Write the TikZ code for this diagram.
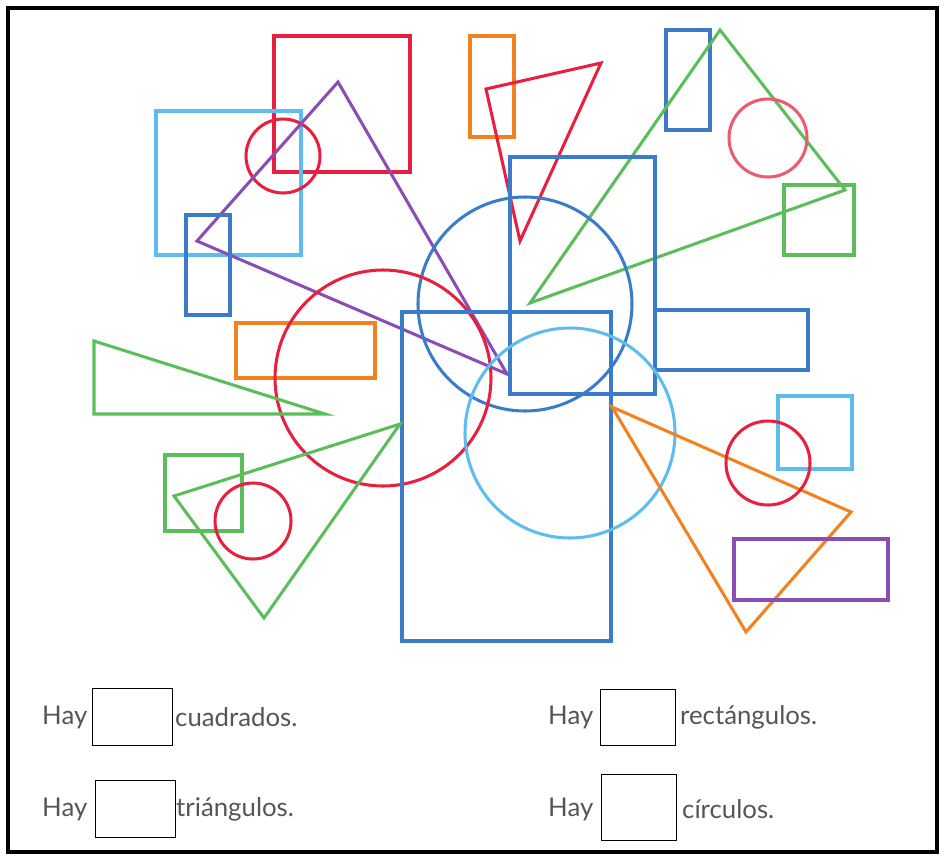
\documentclass[tikz,border=0pt]{standalone}
\usepackage{fontspec}
\setmainfont{Lato}
\definecolor{cred}{HTML}{E8203F}
\definecolor{cblue}{HTML}{3B7CC9}
\definecolor{ccyan}{HTML}{5CBDEE}
\definecolor{cgreen}{HTML}{5CBE5A}
\definecolor{corange}{HTML}{F4811F}
\definecolor{cpurple}{HTML}{8B4DB3}
\definecolor{cpink}{HTML}{EE5A70}
\definecolor{cgray}{HTML}{555555}
\begin{document}
\begin{tikzpicture}[x=0.03cm,y=-0.03cm,
  sh/.style={line width=2.6pt,line join=miter},
  lab/.style={anchor=west,inner sep=0pt,text=cgray,font=\fontsize{22}{26}\selectfont},
  box/.style={draw=black,line width=0.6pt}]
\useasboundingbox (0,0) rectangle (945,857);
\draw[line width=3.5pt] (8,8) rectangle (937,852);
% shapes
\draw[sh,cred] (274,36) rectangle (410,172);
\draw[sh,corange] (470,36) rectangle (514,137);
\draw[sh,cred] (486,89) -- (601,63) -- (520,241) -- cycle;
\draw[sh,cblue] (666,30) rectangle (710,130);
\draw[sh,cgreen] (720,30) -- (845,190) -- (530,303) -- cycle;
\draw[sh,cpink] (768,138) circle (39);
\draw[sh,cgreen] (784,185) rectangle (854,255);
\draw[sh,ccyan] (156,111) rectangle (301,255);
\draw[sh,cred] (283,156) circle (37);
\draw[sh,cpurple] (338,82) -- (197,241) -- (507,374) -- cycle;
\draw[sh,cblue] (186,215) rectangle (230,315);
\draw[sh,cblue] (510,157) rectangle (655,394);
\draw[sh,cblue] (525,304) circle (107);
\draw[sh,cblue] (655,310) rectangle (808,370);
\draw[sh,corange] (236,323) rectangle (375,378);
\draw[sh,cred] (383,378) circle (108);
\draw[sh,cgreen] (94,341) -- (94,414) -- (325,414) -- cycle;
\draw[sh,cblue] (402,312) rectangle (611,641);
\draw[sh,ccyan] (570,433) circle (105);
\draw[sh,corange] (612,407) -- (851,512) -- (746,632) -- cycle;
\draw[sh,ccyan] (778,396) rectangle (852,469);
\draw[sh,cred] (768,463) circle (42);
\draw[sh,cpurple] (734,539) rectangle (888,600);
\draw[sh,cgreen] (165,455) rectangle (242,531);
\draw[sh,cred] (253,521) circle (38);
\draw[sh,cgreen] (174,496) -- (400,424) -- (264,618) -- cycle;
% questions
\node[lab] (h1) at (42,717) {Hay};
\draw[box] (92,688) rectangle (172,745);
\node[lab] (t1) at (175,717) {cuadrados.};
\node[lab] (h2) at (548,717) {Hay};
\draw[box] (600,689) rectangle (675,745);
\node[lab] (t2) at (680,717) {rectángulos.};
\node[lab] (h3) at (42,809) {Hay};
\draw[box] (95,780) rectangle (175,837);
\node[lab] (t3) at (176,809) {triángulos.};
\node[lab] (h4) at (548,809) {Hay};
\draw[box] (601,774) rectangle (676,840);
\node[lab] (t4) at (682,809) {círculos.};
\end{tikzpicture}
\end{document}
